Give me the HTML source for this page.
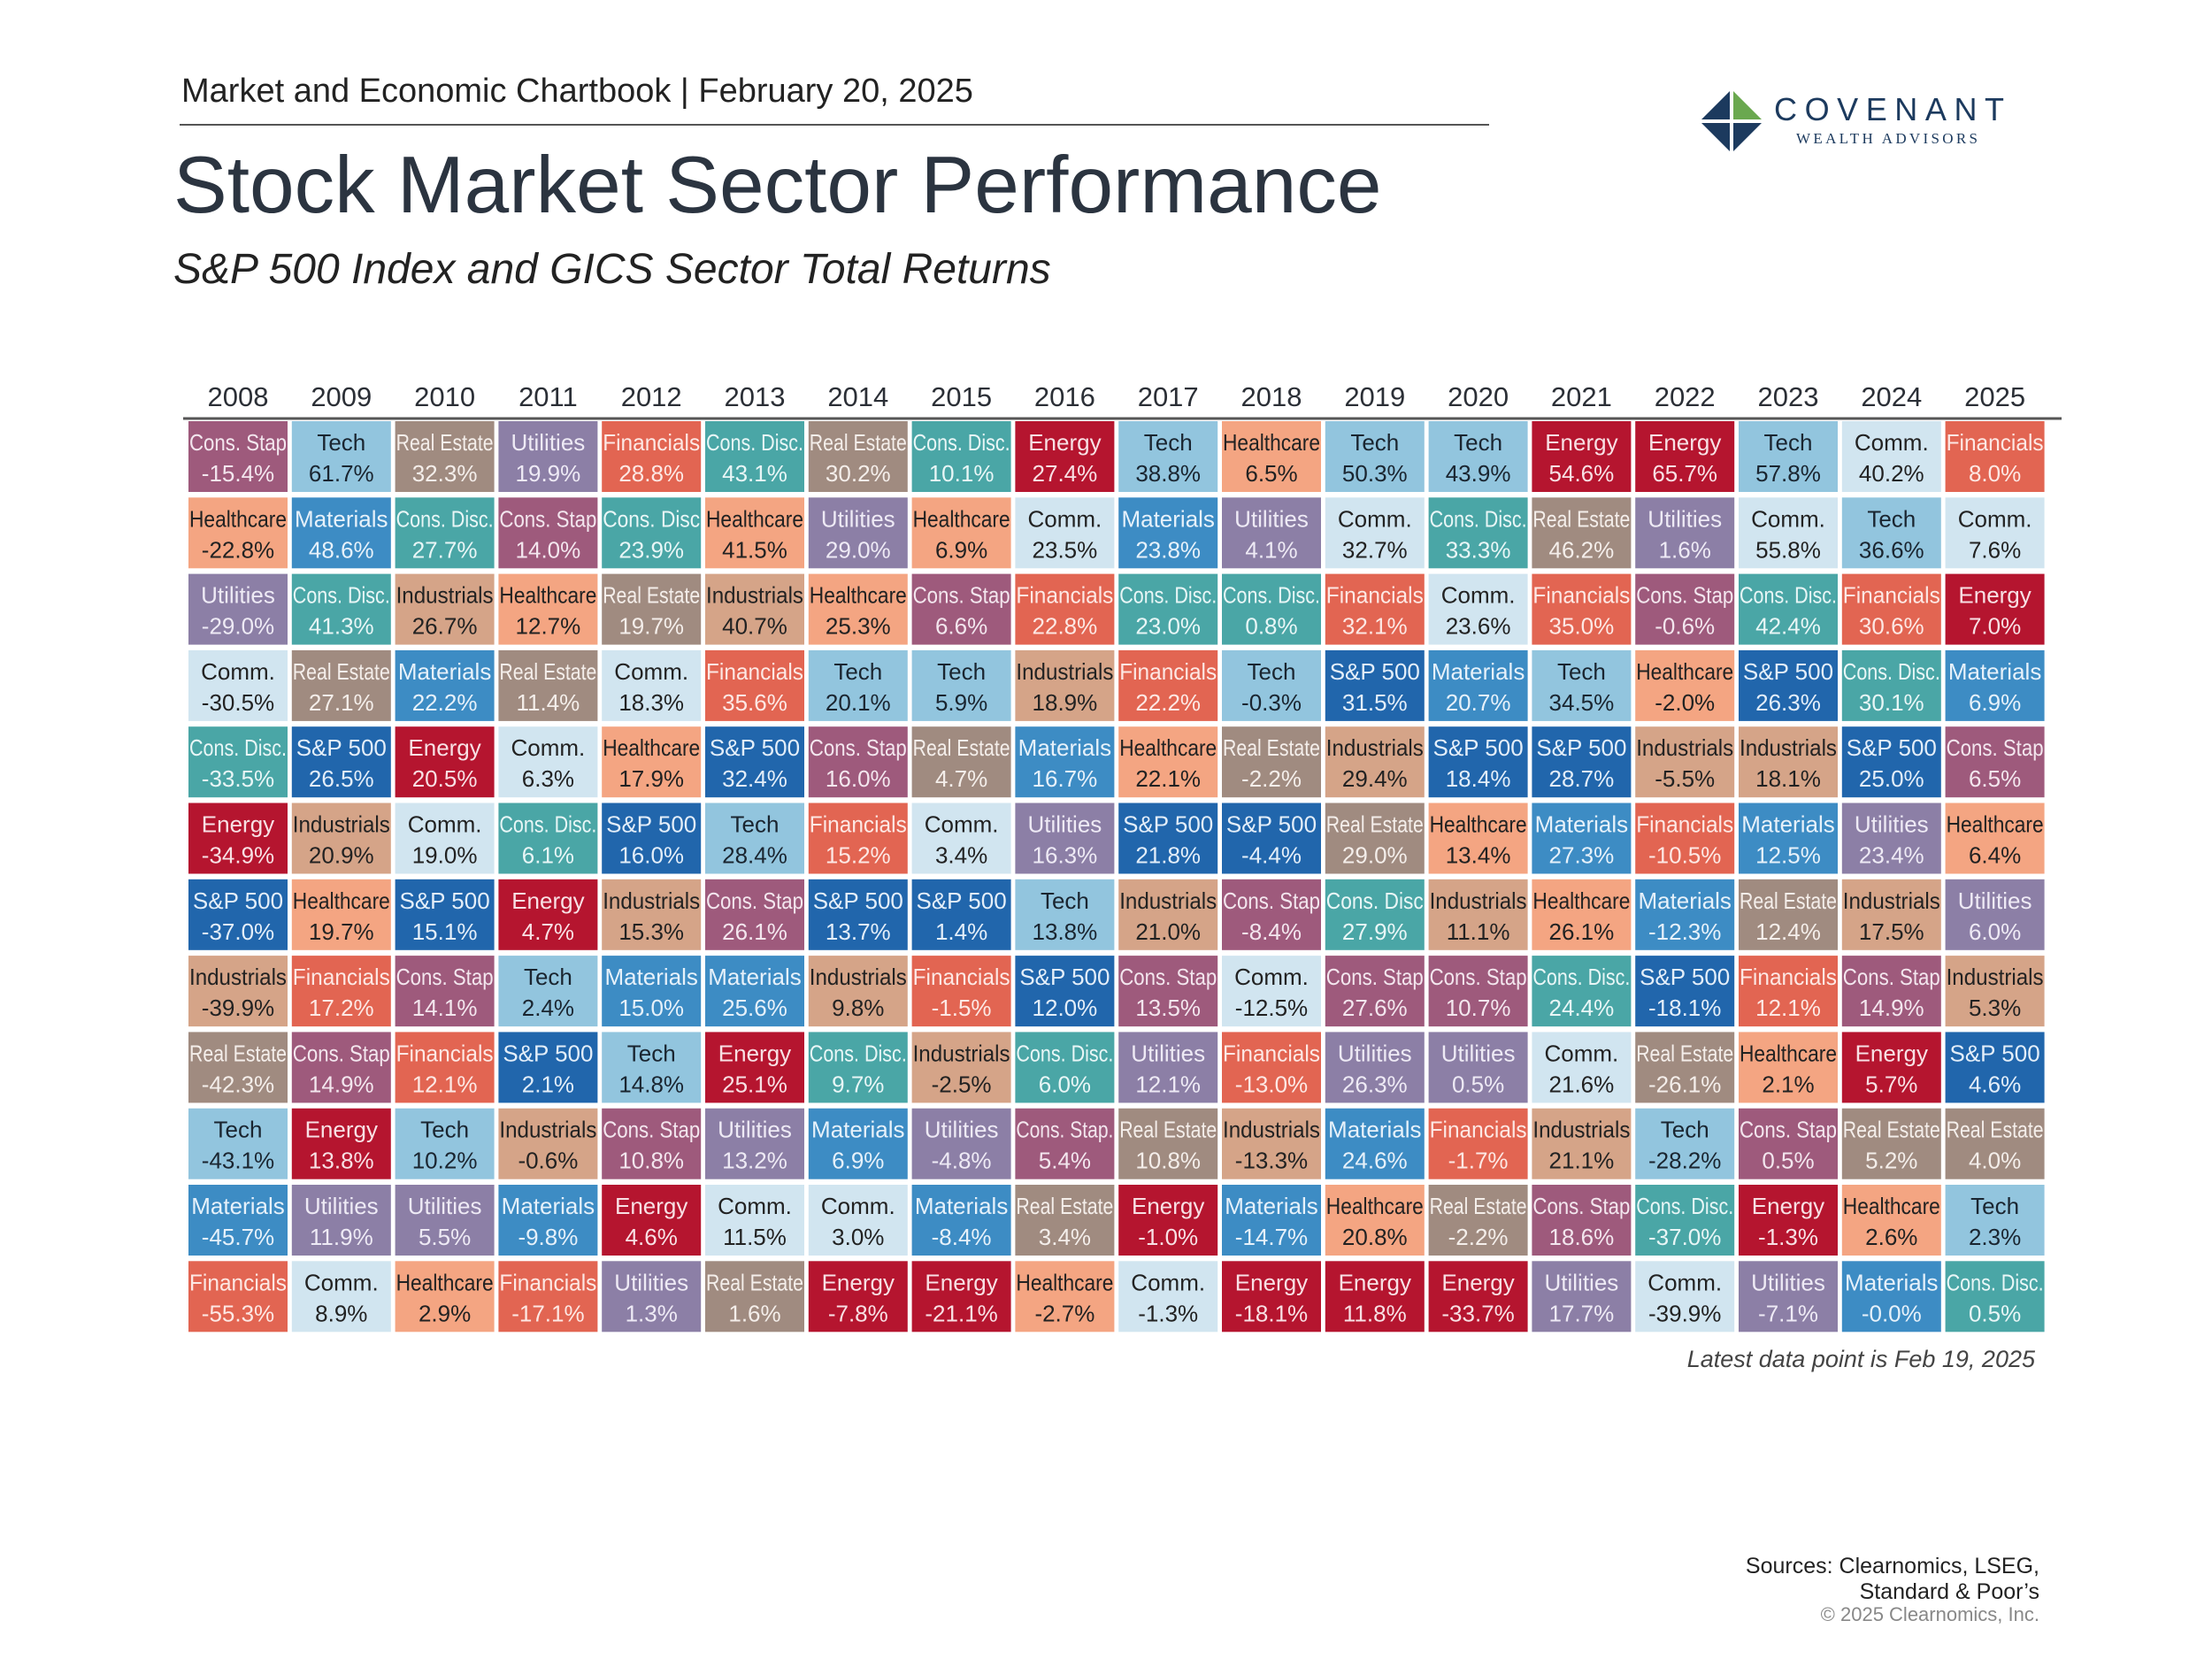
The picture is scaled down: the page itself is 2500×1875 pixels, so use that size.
<!DOCTYPE html>
<html><head><meta charset="utf-8"><style>
html,body{margin:0;padding:0;background:#fff;}
svg{display:block;font-family:"Liberation Sans",sans-serif;}
</style></head><body>
<svg id="chart" width="2500" height="1875" viewBox="0 0 2500 1875">
<text x="205" y="115" font-size="38" fill="#222">Market and Economic Chartbook | February 20, 2025</text>
<line x1="203" y1="141" x2="1683" y2="141" stroke="#555" stroke-width="2"/>
<text x="196" y="240" font-size="91" fill="#2b3440">Stock Market Sector Performance</text>
<text x="196" y="320" font-size="48" font-style="italic" fill="#222">S&amp;P 500 Index and GICS Sector Total Returns</text>
<g>
<polygon points="1955,103 1923,135 1955,135" fill="#1c3a5e"/>
<polygon points="1959,103 1991,135 1959,135" fill="#6aa84f"/>
<polygon points="1923,139 1955,139 1955,171" fill="#1c3a5e"/>
<polygon points="1959,139 1991,139 1959,171" fill="#1c3a5e"/>
<text x="2005" y="136" font-size="36" fill="#1c3a5e" textLength="260">COVENANT</text>
<text x="2030" y="162" font-size="17" fill="#1c3a5e" font-family="Liberation Serif,serif" textLength="205">WEALTH ADVISORS</text>
</g>
<line x1="207" y1="473" x2="2330" y2="473" stroke="#555" stroke-width="3"/>
<g id="grid"></g>
<text x="2300" y="1545" font-size="27" font-style="italic" fill="#444" text-anchor="end">Latest data point is Feb 19, 2025</text>
<text x="2305" y="1778" font-size="25" fill="#222" text-anchor="end">Sources: Clearnomics, LSEG,</text>
<text x="2305" y="1807" font-size="25" fill="#222" text-anchor="end">Standard &amp; Poor’s</text>
<text x="2305" y="1832" font-size="22" fill="#888" text-anchor="end">© 2025 Clearnomics, Inc.</text>
</svg>
<script>
const years = ["2008","2009","2010","2011","2012","2013","2014","2015","2016","2017","2018","2019","2020","2021","2022","2023","2024","2025"];
const labels = [
["Cons. Stap","Healthcare","Utilities","Comm.","Cons. Disc.","Energy","S&P 500","Industrials","Real Estate","Tech","Materials","Financials"],
["Tech","Materials","Cons. Disc.","Real Estate","S&P 500","Industrials","Healthcare","Financials","Cons. Stap","Energy","Utilities","Comm."],
["Real Estate","Cons. Disc.","Industrials","Materials","Energy","Comm.","S&P 500","Cons. Stap","Financials","Tech","Utilities","Healthcare"],
["Utilities","Cons. Stap","Healthcare","Real Estate","Comm.","Cons. Disc.","Energy","Tech","S&P 500","Industrials","Materials","Financials"],
["Financials","Cons. Disc","Real Estate","Comm.","Healthcare","S&P 500","Industrials","Materials","Tech","Cons. Stap","Energy","Utilities"],
["Cons. Disc.","Healthcare","Industrials","Financials","S&P 500","Tech","Cons. Stap","Materials","Energy","Utilities","Comm.","Real Estate"],
["Real Estate","Utilities","Healthcare","Tech","Cons. Stap","Financials","S&P 500","Industrials","Cons. Disc.","Materials","Comm.","Energy"],
["Cons. Disc.","Healthcare","Cons. Stap","Tech","Real Estate","Comm.","S&P 500","Financials","Industrials","Utilities","Materials","Energy"],
["Energy","Comm.","Financials","Industrials","Materials","Utilities","Tech","S&P 500","Cons. Disc.","Cons. Stap.","Real Estate","Healthcare"],
["Tech","Materials","Cons. Disc.","Financials","Healthcare","S&P 500","Industrials","Cons. Stap","Utilities","Real Estate","Energy","Comm."],
["Healthcare","Utilities","Cons. Disc.","Tech","Real Estate","S&P 500","Cons. Stap","Comm.","Financials","Industrials","Materials","Energy"],
["Tech","Comm.","Financials","S&P 500","Industrials","Real Estate","Cons. Disc","Cons. Stap","Utilities","Materials","Healthcare","Energy"],
["Tech","Cons. Disc.","Comm.","Materials","S&P 500","Healthcare","Industrials","Cons. Stap","Utilities","Financials","Real Estate","Energy"],
["Energy","Real Estate","Financials","Tech","S&P 500","Materials","Healthcare","Cons. Disc.","Comm.","Industrials","Cons. Stap","Utilities"],
["Energy","Utilities","Cons. Stap","Healthcare","Industrials","Financials","Materials","S&P 500","Real Estate","Tech","Cons. Disc.","Comm."],
["Tech","Comm.","Cons. Disc.","S&P 500","Industrials","Materials","Real Estate","Financials","Healthcare","Cons. Stap","Energy","Utilities"],
["Comm.","Tech","Financials","Cons. Disc.","S&P 500","Utilities","Industrials","Cons. Stap","Energy","Real Estate","Healthcare","Materials"],
["Financials","Comm.","Energy","Materials","Cons. Stap","Healthcare","Utilities","Industrials","S&P 500","Real Estate","Tech","Cons. Disc."]
];
const returns = [
[-15.4,-22.8,-29.0,-30.5,-33.5,-34.9,-37.0,-39.9,-42.3,-43.1,-45.7,-55.3],
[61.7,48.6,41.3,27.1,26.5,20.9,19.7,17.2,14.9,13.8,11.9,8.9],
[32.3,27.7,26.7,22.2,20.5,19.0,15.1,14.1,12.1,10.2,5.5,2.9],
[19.9,14.0,12.7,11.4,6.3,6.1,4.7,2.4,2.1,-0.6,-9.8,-17.1],
[28.8,23.9,19.7,18.3,17.9,16.0,15.3,15.0,14.8,10.8,4.6,1.3],
[43.1,41.5,40.7,35.6,32.4,28.4,26.1,25.6,25.1,13.2,11.5,1.6],
[30.2,29.0,25.3,20.1,16.0,15.2,13.7,9.8,9.7,6.9,3.0,-7.8],
[10.1,6.9,6.6,5.9,4.7,3.4,1.4,-1.5,-2.5,-4.8,-8.4,-21.1],
[27.4,23.5,22.8,18.9,16.7,16.3,13.8,12.0,6.0,5.4,3.4,-2.7],
[38.8,23.8,23.0,22.2,22.1,21.8,21.0,13.5,12.1,10.8,-1.0,-1.3],
[6.5,4.1,0.8,-0.3,-2.2,-4.4,-8.4,-12.5,-13.0,-13.3,-14.7,-18.1],
[50.3,32.7,32.1,31.5,29.4,29.0,27.9,27.6,26.3,24.6,20.8,11.8],
[43.9,33.3,23.6,20.7,18.4,13.4,11.1,10.7,0.5,-1.7,-2.2,-33.7],
[54.6,46.2,35.0,34.5,28.7,27.3,26.1,24.4,21.6,21.1,18.6,17.7],
[65.7,1.6,-0.6,-2.0,-5.5,-10.5,-12.3,-18.1,-26.1,-28.2,-37.0,-39.9],
[57.8,55.8,42.4,26.3,18.1,12.5,12.4,12.1,2.1,0.5,-1.3,-7.1],
[40.2,36.6,30.6,30.1,25.0,23.4,17.5,14.9,5.7,5.2,2.6,-0.0],
[8.0,7.6,7.0,6.9,6.5,6.4,6.0,5.3,4.6,4.0,2.3,0.5]
];
const colors = {
 "cons. stap":["#9e5a7c","#f3e6ee"], "healthcare":["#f4a582","#222"], "utilities":["#8c7fa6","#eeeaf5"],
 "comm.":["#d1e5f0","#222"], "cons. disc":["#4aa6a6","#e8f6f6"], "energy":["#b5152f","#f8e0e4"],
 "s&p 500":["#2166ac","#e3eef9"], "industrials":["#d5a488","#222"], "real estate":["#a08b80","#f4eeea"],
 "tech":["#92c5de","#1a2530"], "materials":["#3d8cc4","#e6f1fa"], "financials":["#e26552","#fde8e4"]
};
function key(l){ l=l.toLowerCase(); for(const k in colors){ if(l.startsWith(k)) return k; } return "tech"; }
const X0=213, PX=116.8, CW=112, Y0=476, PY=86.3, CH=80;
const xCol = i => X0 + i*PX;
const yRow = r => Y0 + r*PY;
const NS="http://www.w3.org/2000/svg";
const g=document.getElementById("grid");
const svg=document.getElementById("chart");
function fmt(v){ if(Object.is(v,-0)) return "-0.0%"; return v.toFixed(1)+"%"; }
years.forEach((yr,i)=>{
  const t=document.createElementNS(NS,"text");
  t.setAttribute("x",xCol(i)+CW/2); t.setAttribute("y",459);
  t.setAttribute("font-size","31"); t.setAttribute("fill","#2b2f36"); t.setAttribute("text-anchor","middle");
  t.textContent=yr;
  
  
  svg.appendChild(t);
  labels[i].forEach((lab,r)=>{
    const c=colors[key(lab)];
    const cell=document.createElementNS(NS,"g");
    
    
    const rect=document.createElementNS(NS,"rect");
    rect.setAttribute("x",xCol(i)); rect.setAttribute("y",yRow(r));
    rect.setAttribute("width",CW); rect.setAttribute("height",CH); rect.setAttribute("fill",c[0]);
    
    
    cell.appendChild(rect);
    const t1=document.createElementNS(NS,"text");
    t1.setAttribute("x",xCol(i)+CW/2); t1.setAttribute("y",yRow(r)+33);
    t1.setAttribute("font-size","26"); t1.setAttribute("fill",c[1]); t1.setAttribute("text-anchor","middle");
    t1.textContent=lab;
    
    
    cell.appendChild(t1);
    const t2=document.createElementNS(NS,"text");
    t2.setAttribute("x",xCol(i)+CW/2); t2.setAttribute("y",yRow(r)+68);
    t2.setAttribute("font-size","26"); t2.setAttribute("fill",c[1]); t2.setAttribute("text-anchor","middle");
    t2.textContent=fmt(returns[i][r]);
    
    
    cell.appendChild(t2);
    g.appendChild(cell);
    if(t1.getComputedTextLength()>CW-2){ t1.setAttribute("textLength",CW-2); t1.setAttribute("lengthAdjust","spacingAndGlyphs"); }
  });
});
</script>
</body></html>
